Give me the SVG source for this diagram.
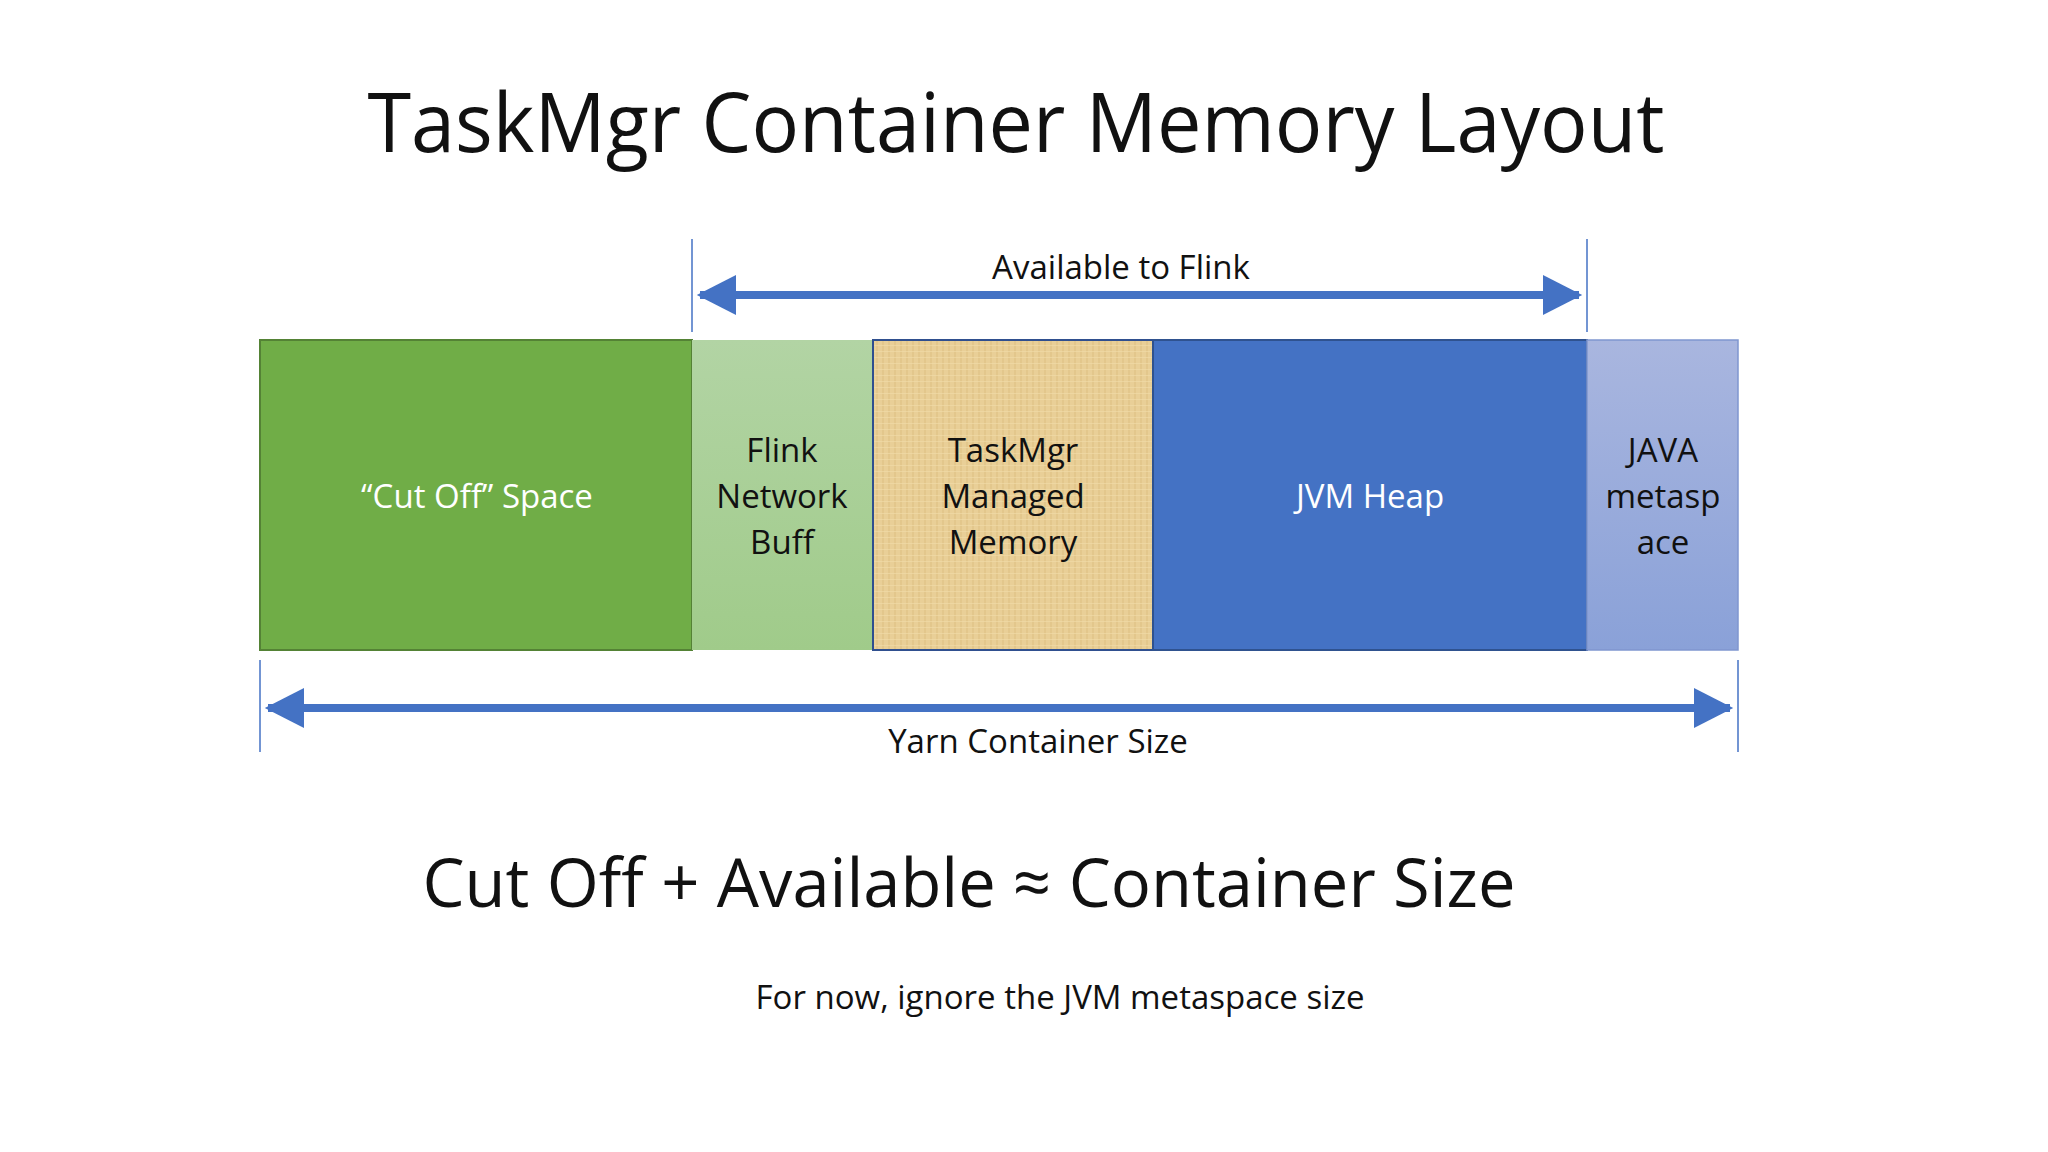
<svg xmlns="http://www.w3.org/2000/svg" width="2048" height="1152" viewBox="0 0 2048 1152">
<style>
text{font-family:"Open Sans","Noto Sans","Liberation Sans",sans-serif;text-anchor:middle}
.lbl{font-size:33px}
.dk{fill:#111}
.wt{fill:#fff}
.tick{stroke:#4472c4;stroke-width:1.5}
.arr{stroke:#4472c4;stroke-width:8}
</style>
<defs>
<linearGradient id="gl" x1="0" y1="0" x2="0" y2="1"><stop offset="0" stop-color="#b2d4a4"/><stop offset="1" stop-color="#a0cb8a"/></linearGradient>
<linearGradient id="gm" x1="0" y1="0" x2="0" y2="1"><stop offset="0" stop-color="#a9b6df"/><stop offset="1" stop-color="#8aa1d8"/></linearGradient>
<pattern id="tex" width="6" height="6" patternUnits="userSpaceOnUse"><rect width="6" height="6" fill="#e9cf97"/><rect width="2" height="6" fill="#dfc286" opacity="0.6"/><rect y="3" width="6" height="1" fill="#f2dcaa" opacity="0.6"/></pattern>
<marker id="ah" markerWidth="5" markerHeight="5" refX="4.5" refY="2.5" orient="auto-start-reverse" markerUnits="strokeWidth"><path d="M0,0 L4.9,2.5 L0,5 Z" fill="#4472c4"/></marker>
</defs>
<rect width="2048" height="1152" fill="#fff"/>
<text x="1016" y="152" font-size="82" fill="#111" textLength="1297" lengthAdjust="spacingAndGlyphs">TaskMgr Container Memory Layout</text>
<g id="cutoff"><rect x="260" y="340" width="432" height="310" fill="#70ad47" stroke="#548235" stroke-width="2"/><text class="lbl wt" x="477" y="508">“Cut Off” Space</text></g>
<g id="netbuf"><rect x="692" y="340" width="181" height="310" fill="url(#gl)"/><text class="lbl dk" x="782" y="462">Flink</text><text class="lbl dk" x="782" y="508">Network</text><text class="lbl dk" x="782" y="554">Buff</text></g>
<g id="managed"><rect x="873" y="340" width="280" height="310" fill="url(#tex)" stroke="#2f4f8f" stroke-width="2"/><text class="lbl dk" x="1013" y="462">TaskMgr</text><text class="lbl dk" x="1013" y="508">Managed</text><text class="lbl dk" x="1013" y="554">Memory</text></g>
<g id="heap"><rect x="1153" y="340" width="434" height="310" fill="#4472c4" stroke="#2f528f" stroke-width="2"/><text class="lbl wt" x="1370" y="508">JVM Heap</text></g>
<g id="meta"><rect x="1587" y="340" width="151" height="310" fill="url(#gm)" stroke="#7f96cf" stroke-width="1.5"/><text class="lbl dk" x="1663" y="462">JAVA</text><text class="lbl dk" x="1663" y="508">metasp</text><text class="lbl dk" x="1663" y="554">ace</text></g>
<g id="connectors">
<line class="tick" x1="692" y1="239" x2="692" y2="332"/>
<line class="tick" x1="1587" y1="239" x2="1587" y2="332"/>
<line class="arr" x1="700" y1="295" x2="1579" y2="295" marker-start="url(#ah)" marker-end="url(#ah)"/>
<line class="tick" x1="260" y1="660" x2="260" y2="752"/>
<line class="tick" x1="1738" y1="660" x2="1738" y2="752"/>
<line class="arr" x1="268" y1="708" x2="1730" y2="708" marker-start="url(#ah)" marker-end="url(#ah)"/>
</g>
<text class="lbl dk" x="1121" y="279">Available to Flink</text>
<text class="lbl dk" x="1038" y="753">Yarn Container Size</text>
<text x="969" y="907" font-size="68" fill="#111" textLength="1093" lengthAdjust="spacingAndGlyphs">Cut Off + Available ≈ Container Size</text>
<text class="lbl dk" x="1060" y="1009">For now, ignore the JVM metaspace size</text>
</svg>
